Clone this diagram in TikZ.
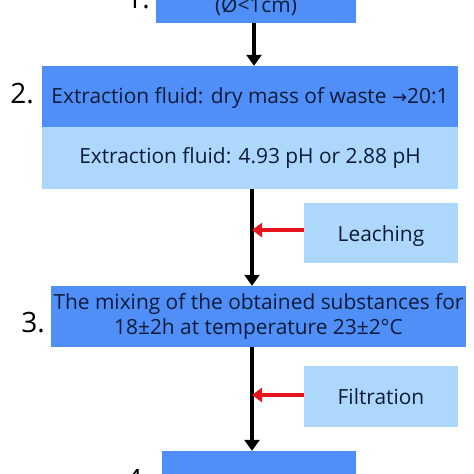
\documentclass[tikz,border=0pt]{standalone}
\usepackage{fontspec}
\setmainfont{Open Sans}
\newfontfamily\symfont{DejaVu Sans}
\usetikzlibrary{arrows.meta}
\definecolor{darkbox}{HTML}{4F8FF7}
\definecolor{lightbox}{HTML}{ADD8FC}
\definecolor{txt}{HTML}{0D1B38}
\definecolor{redarr}{HTML}{E8141C}
\tikzset{
  boxfont/.style={font=\fontsize{20.9}{25}\selectfont},
  dbox/.style={fill=darkbox, draw=none, inner sep=0pt, text=txt, boxfont, align=center},
  lbox/.style={fill=lightbox, draw=none, inner sep=0pt, text=txt, boxfont, align=center},
  num/.style={font=\fontsize{28}{30}\selectfont, text=black, inner sep=0pt},
  blk/.style={line width=3.5pt, -{Triangle[width=15pt,length=11pt]}},
  redar/.style={line width=3.5pt, draw=redarr, -{Triangle[width=14pt,length=10pt]}}
}
\begin{document}
\begin{tikzpicture}[x=1pt,y=-1pt]
\useasboundingbox (0,0) rectangle (474,474);
\clip (0,0) rectangle (474,474);
% boxes
\node[dbox, minimum width=200pt, minimum height=62.6pt] (b1) at (256,-8.6) {};
\node[text=txt, boxfont, inner sep=0pt] (b1t) at (256,6) {(Ø<1cm)};
\node[dbox, minimum width=416pt, minimum height=61pt, text depth=1pt] (b2a) at (250,96.5) {Extraction fluid: dry mass of waste {\symfont\fontsize{18}{20}\selectfont →}20:1};
\node[lbox, minimum width=416pt, minimum height=62pt] (b2b) at (250,158) {Extraction fluid: 4.93 pH or 2.88 pH};
\node[lbox, minimum width=154pt, minimum height=60pt] (leach) at (381,233) {};
\node[text=txt, boxfont, inner sep=0pt] (leacht) at (381,236) {Leaching};
\node[dbox, minimum width=415pt, minimum height=61pt] (b3) at (258.5,316.5) {The mixing of the obtained substances for\\18±2h at temperature 23±2°C};
\node[lbox, minimum width=154pt, minimum height=61pt] (filt) at (381,396.5) {Filtration};
\node[dbox, minimum width=194pt, minimum height=61pt] (b4) at (259,481.5) {};
% numbers
\node[num, anchor=base east] (n1) at (150,8) {1.};
\node[num, anchor=base east] (n2) at (34,103) {2.};
\node[num, anchor=base east] (n3) at (45,332) {3.};
\node[num, anchor=base east] (n4) at (150,489) {4.};
% arrows
\coordinate (c1) at ([xshift=-2pt]b1.south);
\draw[blk] (c1) -- (c1 |- b2a.north);
\coordinate (c2) at ([xshift=2pt]b2b.south);
\draw[blk] (c2) -- (c2 |- b3.north);
\coordinate (c3) at ([xshift=-6.5pt]b3.south);
\draw[blk] (c3) -- (c3 |- b4.north);
\coordinate (r1) at ([yshift=3pt]leach.west);
\draw[redar] (r1) -- (r1 -| c2);
\coordinate (r2) at ([yshift=1.5pt]filt.west);
\draw[redar] (r2) -- (r2 -| c3);
\end{tikzpicture}
\end{document}
